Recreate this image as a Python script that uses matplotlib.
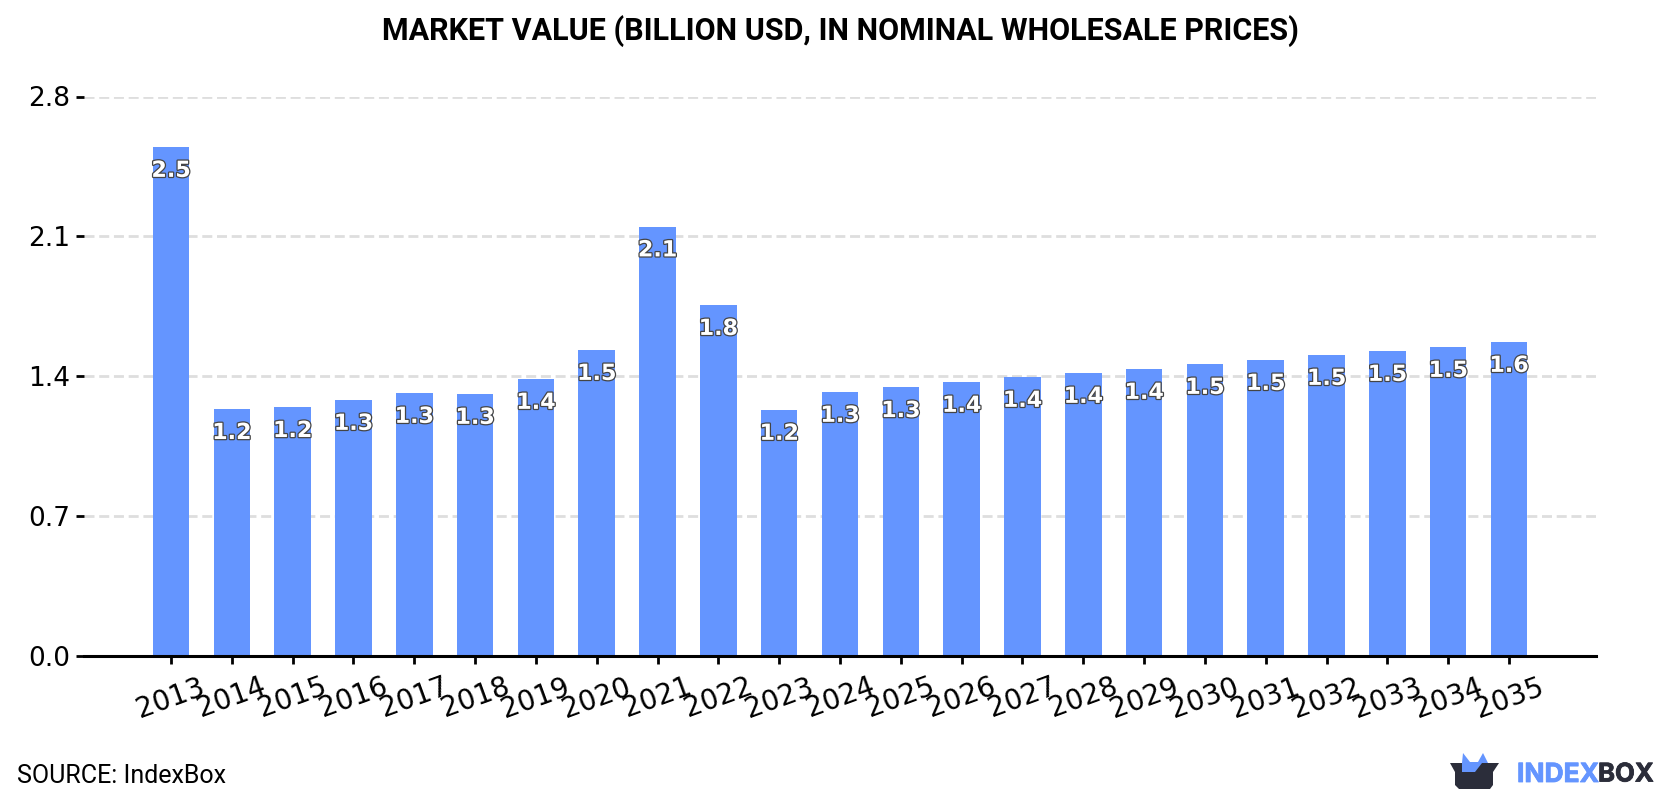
"""
Bar chart: market value per year with value labels inside each bar.
"""
import matplotlib
matplotlib.use("Agg")
import matplotlib.pyplot as plt
import matplotlib.patheffects as pe
from matplotlib.patches import Polygon

YEARS = list(range(2013, 2036))
VALUES = [2.546, 1.234, 1.244, 1.28, 1.315, 1.31, 1.385, 1.53, 2.148, 1.755, 1.23, 1.32,
          1.344, 1.37, 1.395, 1.415, 1.435, 1.46, 1.48, 1.505, 1.525, 1.545, 1.57]
Y_TICKS = [0.0, 0.7, 1.4, 2.1, 2.8]

TITLE = "MARKET VALUE (BILLION USD, IN NOMINAL WHOLESALE PRICES)"
SOURCE = "SOURCE: IndexBox"

BLUE = "#6495ff"
DARK = "#2b2d3a"
GRID_COLOR = "#dedede"

W, H = 1680, 800

fig = plt.figure(figsize=(W / 100, H / 100), dpi=100, facecolor="white")
ax = fig.add_axes([84 / W, 1 - 656 / H, (1596 - 84) / W, (656 - 96.5) / H])

ax.bar(YEARS, VALUES, width=0.6, color=BLUE, zorder=2)

for year, val in zip(YEARS, VALUES):
    ax.annotate(f"{val:.1f}", xy=(year, val), xytext=(0, -17),
                textcoords="offset points", ha="center", va="center",
                fontsize=16, fontweight="bold", color="white", zorder=4,
                path_effects=[pe.withStroke(linewidth=1.8, foreground="#444444")])

ax.set_xlim(2013 - 1.43, 2035 + 1.43)
ax.set_ylim(0, 2.8)
ax.set_yticks(Y_TICKS)
ax.set_yticklabels([f"{t:.1f}" for t in Y_TICKS], fontsize=19)
ax.set_xticks(YEARS)
ax.set_xticklabels(YEARS, fontsize=20, rotation=20, ha="center")
ax.tick_params(axis="y", length=6, width=2, pad=4)
ax.tick_params(axis="x", length=6, width=2, pad=6)
ax.yaxis.grid(True, color=GRID_COLOR, linewidth=2, linestyle=(0, (3.6, 1.7)), zorder=1)
ax.set_axisbelow(True)
ax.spines[["top", "right", "left"]].set_visible(False)
ax.spines["bottom"].set_linewidth(2.2)
ax.spines["bottom"].set_color("black")

fig.text(0.5, 1 - 31 / H, TITLE, ha="center", va="center",
         fontsize=22, fontweight="bold", family="Roboto")
fig.text(17 / W, 1 - 776 / H, SOURCE, ha="left", va="center",
         fontsize=18, family="Roboto")

# logo: a box with blue ears, placed in pixel coordinates
logo = fig.add_axes([0, 0, 1, 1], facecolor="none")
logo.set_xlim(0, W)
logo.set_ylim(H, 0)
logo.axis("off")
logo.add_patch(Polygon([(1450, 763), (1499, 763), (1493, 772), (1493, 785), (1490, 789),
                        (1459, 789), (1455, 785), (1455, 772)],
                       closed=True, color=DARK, lw=0))
logo.add_patch(Polygon([(1462, 763), (1463, 753), (1470, 762), (1478, 762), (1483, 753),
                        (1488, 763), (1482, 763), (1475, 772), (1462, 772)],
                       closed=True, color=BLUE, lw=0))
fatten = [pe.withStroke(linewidth=0.6, foreground=BLUE)]
logo.text(1517, 775, "INDEX", ha="left", va="center", fontsize=19,
          fontweight="bold", family="Inter", color=BLUE, path_effects=fatten)
fatten = [pe.withStroke(linewidth=0.6, foreground=DARK)]
logo.text(1598, 775, "BOX", ha="left", va="center", fontsize=18.5,
          fontweight="bold", family="Inter", color=DARK, path_effects=fatten)

fig.savefig("out.png", dpi=100, facecolor="white")
